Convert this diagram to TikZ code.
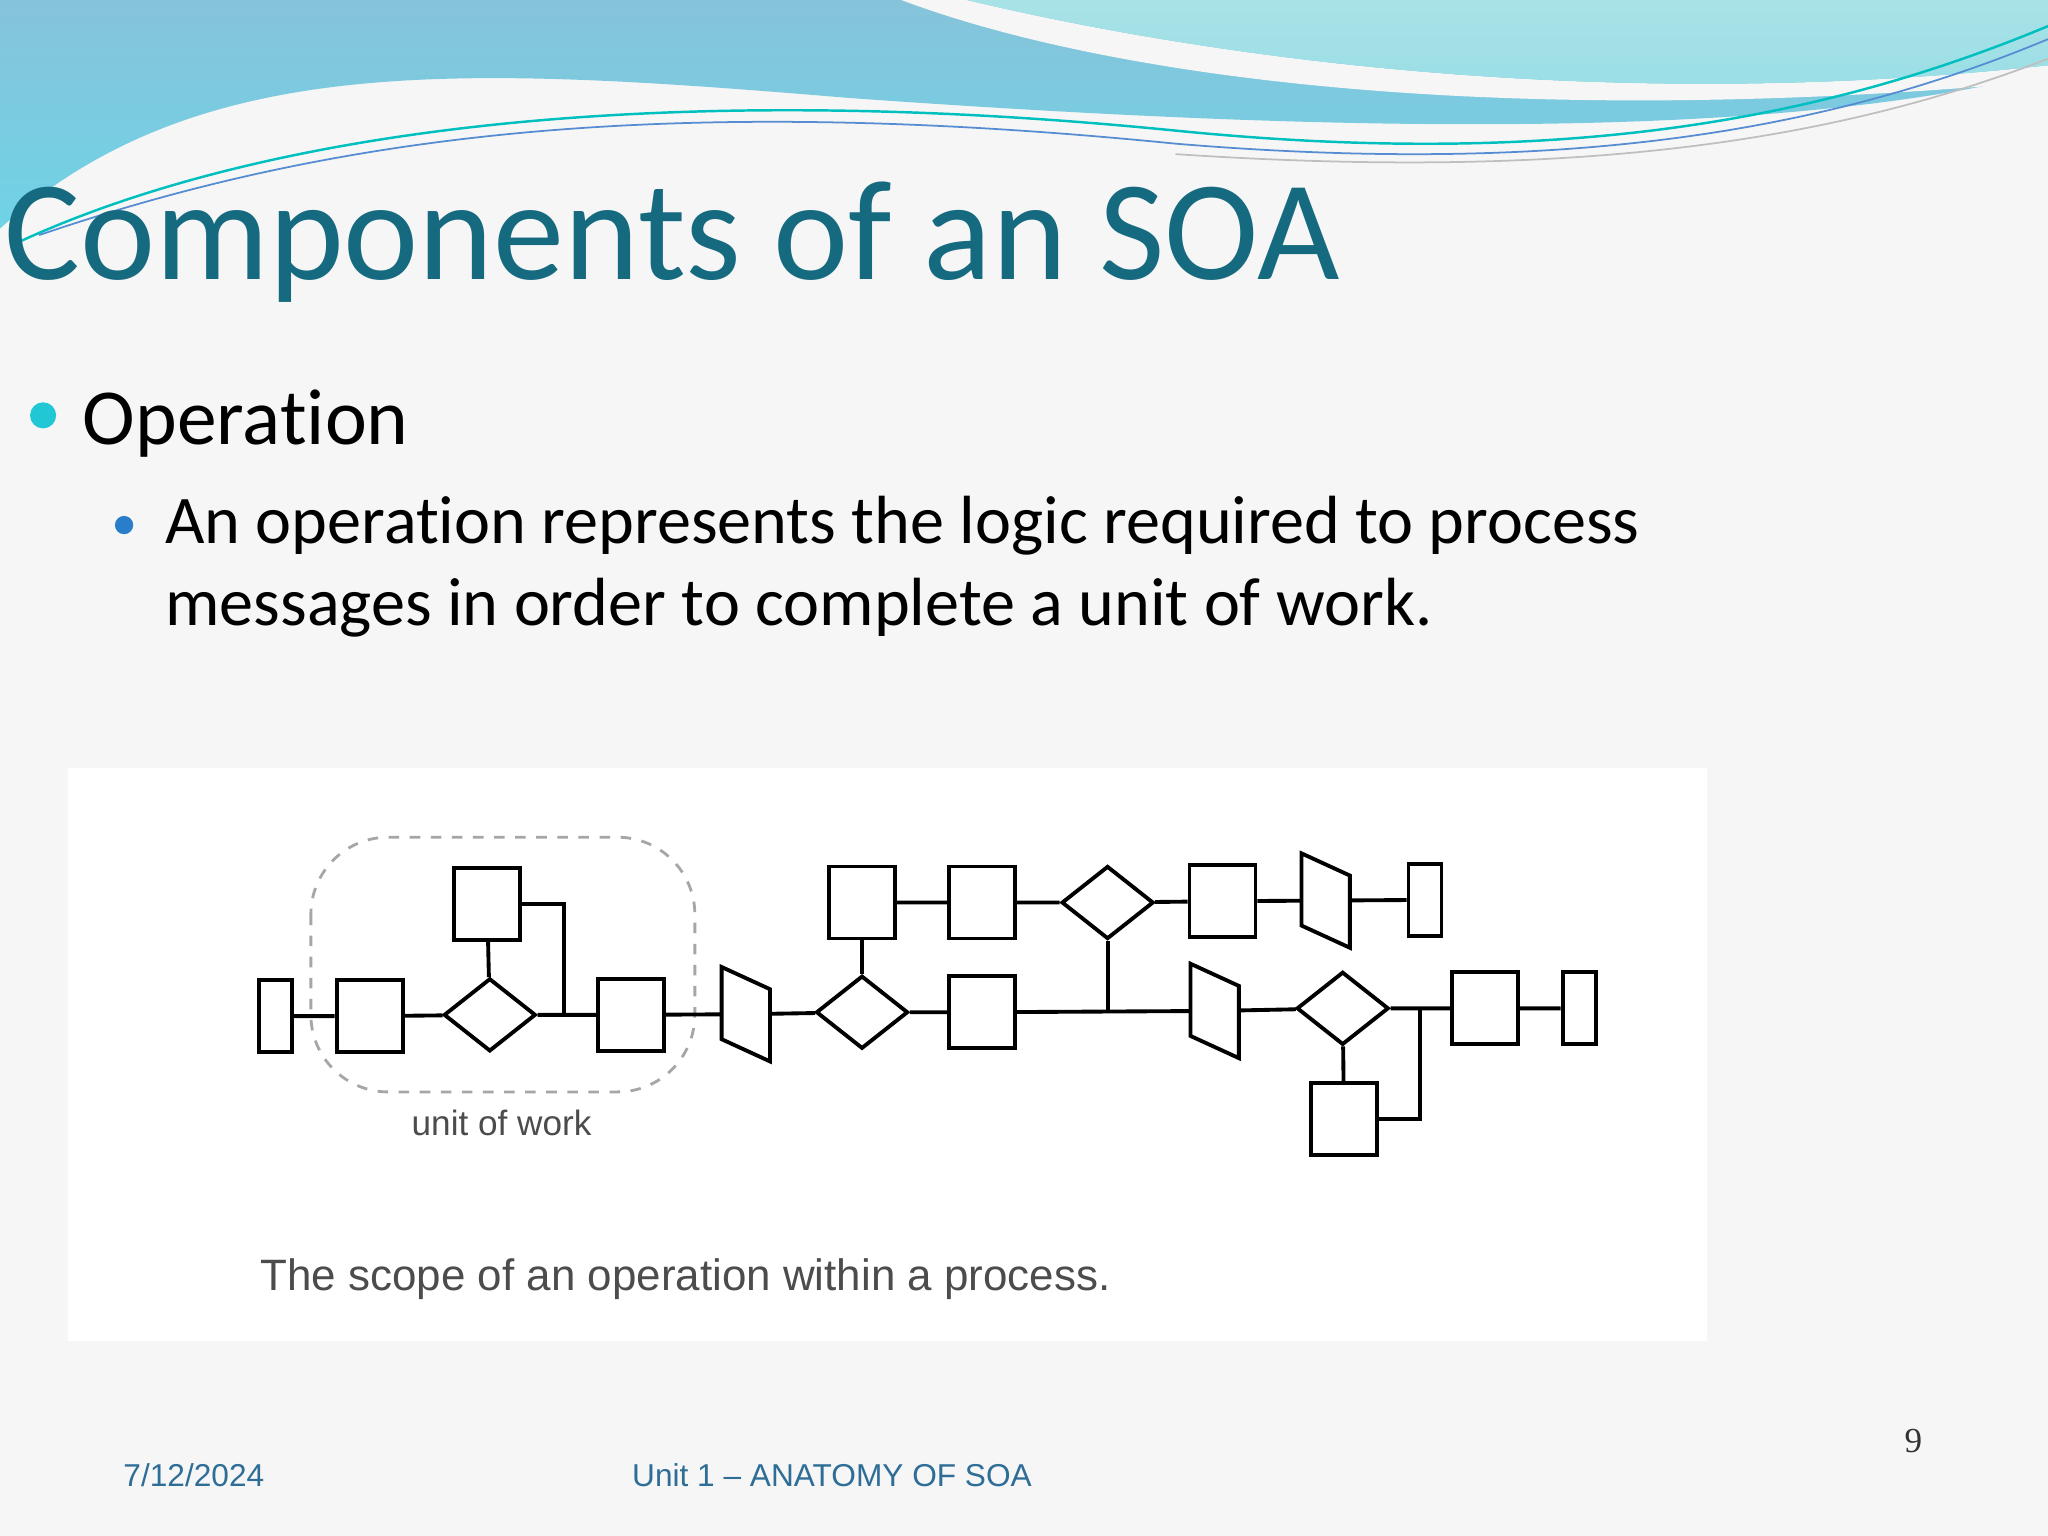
\documentclass[tikz,border=0pt]{standalone}
\usepackage{fontspec}
\setmainfont[Ligatures={NoCommon}]{Carlito}
\newfontfamily\arialf{Liberation Sans}
\newfontfamily\seriff{Liberation Serif}
\usetikzlibrary{shapes.geometric,calc}
\definecolor{titleblue}{HTML}{166A80}
\definecolor{bgray}{HTML}{F6F6F6}
\definecolor{wave1}{HTML}{86C3DA}
\definecolor{wave2}{HTML}{6FD3E6}
\definecolor{wave3}{HTML}{A8E2E6}
\definecolor{teal1}{HTML}{22C7D6}
\definecolor{bul2}{HTML}{2A7DC9}
\definecolor{foot}{HTML}{2E6E96}
\begin{document}
\begin{tikzpicture}[x=0.013061cm,y=-0.013061cm,
  sq/.style={draw,line width=1.1pt,minimum width=0.66cm,minimum height=0.72cm,inner sep=0},
  tall/.style={draw,line width=1.1pt,minimum width=0.33cm,minimum height=0.72cm,inner sep=0},
  dia/.style={draw,diamond,line width=1.1pt,minimum width=0.92cm,minimum height=0.73cm,inner sep=0},
  trap/.style={minimum width=0.47cm,minimum height=0.93cm,inner sep=0},
  ln/.style={line width=1.1pt},
  lbl/.style={font=\arialf\fontsize{10pt}{12pt}\selectfont,text=black!70}]
\useasboundingbox (0,0) rectangle (1568,1176);
\fill[bgray] (0,0) rectangle (1568,1176);
% top wave
\shade[top color=wave1,bottom color=wave2] (0,0) -- (1568,0) -- (1568,55)
  .. controls (1350,110) and (1000,100) .. (650,75)
  .. controls (350,50) and (150,40) .. (0,175) -- cycle;
\fill[bgray] (690,0) .. controls (850,60) and (1150,100) .. (1568,62) -- (1568,50) .. controls (1250,85) and (950,50) .. (740,0) -- cycle;
\shade[top color=wave3,bottom color=wave3!70!wave2] (740,0) .. controls (950,50) and (1250,85) .. (1568,50) -- (1568,0) -- cycle;
\draw[teal!50!cyan,line width=0.7pt] (15,185) .. controls (200,100) and (500,60) .. (900,100) .. controls (1200,130) and (1400,90) .. (1568,20);
\draw[cyan!50!blue!70,line width=0.5pt] (30,180) .. controls (250,105) and (500,70) .. (900,110) .. controls (1200,135) and (1400,100) .. (1568,30);
\draw[gray!50,line width=0.5pt] (900,118) .. controls (1200,138) and (1400,110) .. (1568,45);
% title
\node[anchor=base west,inner sep=0,text=titleblue,font=\fontsize{40.5pt}{48pt}\selectfont] (title) at (3,214) {Components of an SOA};
\fill[teal1] (33,318) circle (10);
\node[anchor=base west,inner sep=0,font=\fontsize{22.6pt}{27pt}\selectfont] (op) at (63,340) {Operation};
\fill[bul2] (95,402) circle (7);
\node[anchor=base west,inner sep=0,font=\fontsize{19.4pt}{24pt}\selectfont] (desc) at (126,416) {An operation represents the logic required to process};
\node[anchor=base west,inner sep=0,font=\fontsize{19.4pt}{24pt}\selectfont] (desc2) at (126,479) {messages in order to complete a unit of work.};
% panel
\fill[white] (52,588) rectangle (1307,1027);
% unit of work box
\draw[dashed,line width=0.8pt,gray!70,rounded corners=22] (238,641) rectangle (532,836);
\node[lbl] (uow) at (384,860) {unit of work};
% shapes
\node[tall] (A) at (211,778) {};
\node[sq] (B) at (283,778) {};
\node[dia] (C) at (375,777) {};
\node[sq] (D) at (373,692) {};
\node[sq] (E) at (483,777) {};
\node[trap] (F) at (571,776.5) {};
\node[dia] (G) at (660,775) {};
\node[sq] (H) at (660,691) {};
\node[sq] (I) at (752,691) {};
\node[dia] (J) at (848,691) {};
\node[sq] (K) at (936,690) {};
\node[trap] (L) at (1015,689.5) {};
\node[tall] (M) at (1091,689) {};
\node[sq] (N) at (752,775) {};
\node[trap] (O) at (930,774) {};
\node[dia] (P) at (1028,772) {};
\node[sq] (Q) at (1137,772) {};
\node[tall] (R) at (1209,772) {};
\node[sq] (S) at (1029,857) {};
\foreach \t in {F,L,O}{
  \draw[ln] (\t.north west) -- ($(\t.north east)+(0,17)$) -- (\t.south east) -- ($(\t.south west)+(0,-17)$) -- cycle;}
\coordinate (c1) at (432,777);
\coordinate (c2) at (848,775);
\coordinate (c3) at (1087,772);
\draw[ln] (A) -- (B) -- (C) -- (E) -- (F) -- (G) -- (N) -- (O) -- (P) -- (Q) -- (R);
\draw[ln] (D) -- (C);
\draw[ln] (D.east) -| (c1);
\draw[ln] (H) -- (G);
\draw[ln] (H) -- (I) -- (J) -- (K) -- (L) -- (M);
\draw[ln] (J) -- (c2);
\draw[ln] (S) -- (P);
\draw[ln] (S.east) -| (c3);
\node[lbl,anchor=base west,inner sep=0,font=\arialf\fontsize{12.5pt}{15pt}\selectfont] (cap) at (199,988) {The scope of an operation within a process.};
% footer
\node[anchor=base west,inner sep=0,text=foot,font=\arialf\fontsize{9pt}{11pt}\selectfont] (date) at (94,1138) {7/12/2024};
\node[anchor=base,inner sep=0,text=foot,font=\arialf\fontsize{9pt}{11pt}\selectfont] (unit) at (637,1138) {Unit 1 – ANATOMY OF SOA};
\node[anchor=base,inner sep=0,text=black!80,font=\seriff\fontsize{10pt}{12pt}\selectfont] (pg) at (1465,1112) {9};
\end{tikzpicture}
\end{document}
